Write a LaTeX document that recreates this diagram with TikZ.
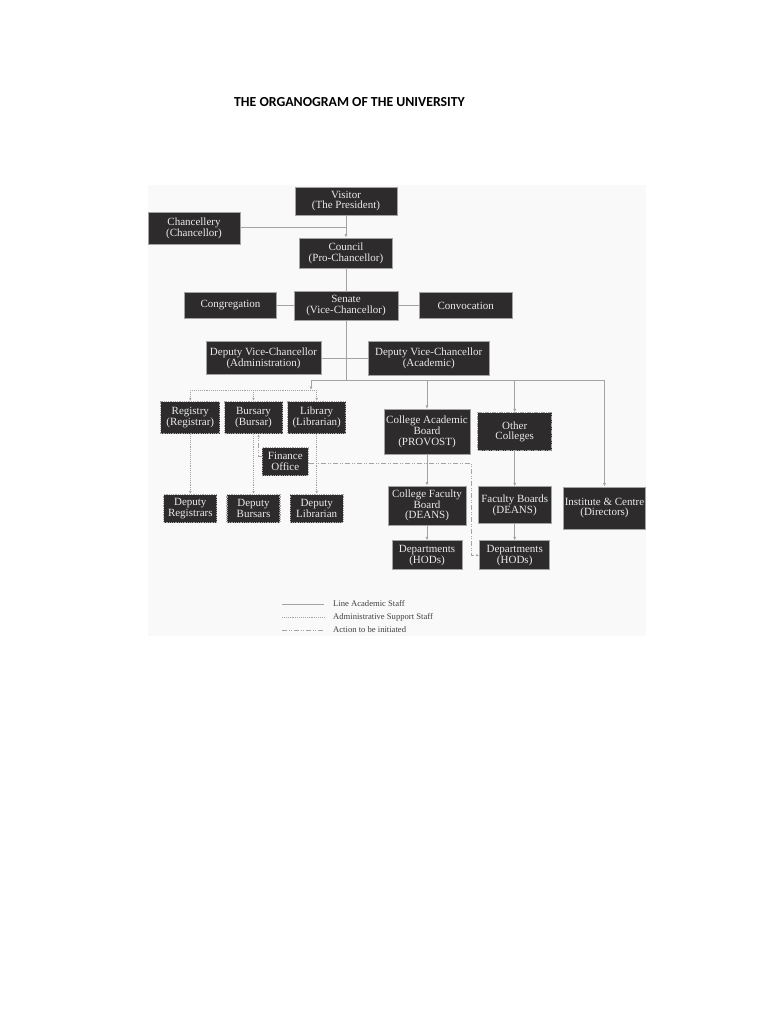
\documentclass[tikz,border=0pt]{standalone}
\usepackage{fontspec}
\setmainfont{Liberation Serif}
\newfontfamily\titlefont{Carlito}
\usepackage{tikz}
\usetikzlibrary{shapes,positioning,calc}
\usetikzlibrary{arrows.meta}
\definecolor{boxfill}{HTML}{2D2B2B}
\definecolor{linegray}{HTML}{A3A3A3}
\tikzstyle{office} = [rectangle, fill=boxfill, draw=linegray, line width=0.8pt, text=white!92!black, align=center, font=\fontsize{11}{10.8}\selectfont, inner sep=1pt]
\tikzstyle{adminoffice} = [office, draw=gray!70, densely dotted, line width=1.2pt]
\tikzstyle{otheroffice} = [office, draw=gray!70, dash pattern=on 4pt off 1pt on 1pt off 1pt, line width=1pt]
\tikzstyle{line} = [linegray, line width=1pt]
\tikzstyle{arrow} = [line, ->, >={Latex[length=3.5pt,width=3pt]}]
\tikzstyle{admin} = [linegray, line width=0.9pt, densely dotted]
\tikzstyle{adminarrow} = [admin, ->, >={Latex[length=3pt,width=2.5pt]}]
\tikzstyle{action} = [linegray, line width=0.9pt, dash pattern=on 5pt off 2pt on 1pt off 1pt on 1pt off 2pt]
\tikzstyle{actionarrow} = [action, ->, >={Latex[length=3pt,width=2.5pt]}]
\tikzstyle{legendtext} = [anchor=west, inner sep=0pt, text=black!75, font=\fontsize{8.6}{10}\selectfont]

\begin{document}
\begin{tikzpicture}[x=1pt, y=-1pt]
\useasboundingbox (0,0) rectangle (768,1024);
\fill[black!2.5] (148,185) rectangle (646,636);

\node[font=\titlefont\bfseries\fontsize{13.8}{16}\selectfont] (title) at (349.5,102) {THE ORGANOGRAM OF THE UNIVERSITY};

% top of the chart
\node (visitor) at (346,201) [office, minimum width=102pt, minimum height=28pt] {Visitor\\(The President)};
\node (chancellery) at (194,228) [office, minimum width=92pt, minimum height=32pt] {Chancellery\\(Chancellor)};
\node (council) at (346,253) [office, minimum width=93pt, minimum height=30pt] {Council\\(Pro-Chancellor)};
\node (senate) at (346,305.5) [office, minimum width=104pt, minimum height=29pt] {Senate\\(Vice-Chancellor)};
\node (congregation) at (230.5,305.5) [office, minimum width=92pt, minimum height=26pt] {Congregation};
\node (convocation) at (465.7,305.5) [office, minimum width=93pt, minimum height=26pt] {Convocation};
\node (dvcadm) at (263.5,358.3) [office, minimum width=115pt, minimum height=33pt] {Deputy Vice-Chancellor\\(Administration)};
\node (dvcacad) at (428.7,358.3) [office, minimum width=121pt, minimum height=34pt] {Deputy Vice-Chancellor\\(Academic)};

% administration
\node (registry) at (190.3,417.5) [adminoffice, minimum width=59pt, minimum height=32pt] {Registry\\(Registrar)};
\node (bursary) at (253.5,417.5) [adminoffice, minimum width=58pt, minimum height=32pt] {Bursary\\(Bursar)};
\node (library) at (316.7,417.5) [adminoffice, minimum width=58pt, minimum height=32pt] {Library\\(Librarian)};
\node (finance) at (285.3,461.8) [adminoffice, minimum width=46pt, minimum height=28pt] {Finance\\Office};
\node (depreg) at (190.3,508.5) [adminoffice, minimum width=53pt, minimum height=28pt] {Deputy\\Registrars};
\node (depbur) at (253.5,508.5) [adminoffice, minimum width=53pt, minimum height=28pt] {Deputy\\Bursars};
\node (deplib) at (316.7,508.5) [adminoffice, minimum width=53pt, minimum height=28pt] {Deputy\\Librarian};

% academic
\node (cab) at (427,431.7) [office, minimum width=86pt, minimum height=45pt] {College Academic\\Board\\(PROVOST)};
\node (other) at (514.7,431.8) [otheroffice, minimum width=74pt, minimum height=38pt] {Other\\Colleges};
\node (cfb) at (427,505.5) [office, minimum width=78pt, minimum height=39pt] {College Faculty\\Board\\(DEANS)};
\node (facboards) at (514.7,505.3) [office, minimum width=73pt, minimum height=37pt] {Faculty Boards\\(DEANS)};
\node (institute) at (604.5,508) [office, minimum width=81pt, minimum height=42pt] {Institute \& Centre\\(Directors)};
\node (dept1) at (427,555.3) [office, minimum width=70pt, minimum height=29pt] {Departments\\(HODs)};
\node (dept2) at (514.7,555.3) [office, minimum width=70pt, minimum height=29pt] {Departments\\(HODs)};

\coordinate (hub) at (346,380);
\coordinate (adminhub) at (311,390);

\draw[arrow] (visitor) -- (council);
\draw[line] (chancellery.east) -- (chancellery.east -| visitor.south);
\draw[line] (council) -- (senate);
\draw[line] (congregation) -- (senate);
\draw[line] (senate) -- (convocation);
\draw[line] (dvcadm) -- (dvcacad);
\draw[line] (senate) -- (hub);
\draw[arrow] (adminhub |- hub) -| (institute.north);
\draw[arrow] (hub -| cab.north) -- (cab.north);
\draw[arrow] (hub -| other.north) -- (other.north);
\draw[arrow] (adminhub |- hub) -- (adminhub);

\draw[admin] (adminhub -| registry.north) -- (adminhub -| library.north);
\draw[adminarrow] (adminhub -| registry.north) -- (registry.north);
\draw[adminarrow] (adminhub -| bursary.north) -- (bursary.north);
\draw[adminarrow] (adminhub -| library.north) -- (library.north);
\draw[adminarrow] (registry) -- (depreg);
\draw[adminarrow] (bursary) -- (depbur);
\draw[adminarrow] (library) -- (deplib);

\draw[actionarrow] ([yshift=5pt]finance.west) -| ([xshift=5pt]bursary.south);
\draw[actionarrow] ([yshift=-1.5pt]finance.east) -| ($(dept2.west)+(-8,0)$) -- (dept2.west);

\draw[arrow] (cab) -- (cfb);
\draw[arrow] (cfb) -- (dept1);
\draw[arrow] (other) -- (facboards);
\draw[arrow] (facboards) -- (dept2);

% legend
\node (legacad) at (333,604) [legendtext] {Line Academic Staff};
\node (legadmin) at (333,617) [legendtext] {Administrative Support Staff};
\node (legaction) at (333,630) [legendtext] {Action to be initiated};
\coordinate (k1) at (282,604);
\coordinate (k2) at (282,617);
\coordinate (k3) at (282,630);
\draw[line] (k1) -- ++(42,0);
\draw[admin] (k2) -- ++(42,0);
\draw[action] (k3) -- ++(42,0);
\end{tikzpicture}
\end{document}
